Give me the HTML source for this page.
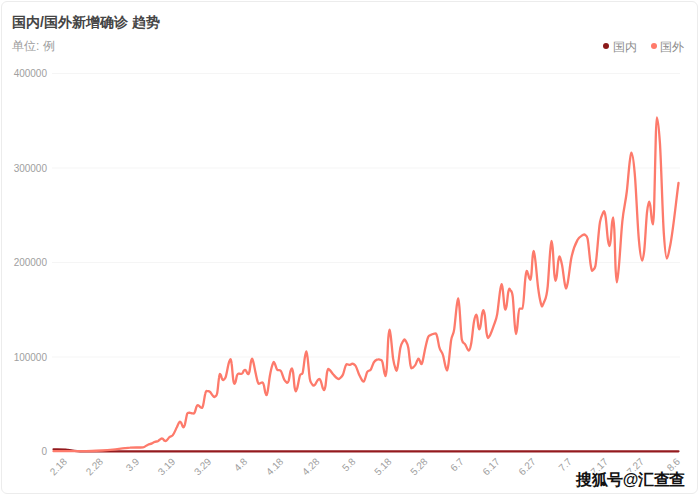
<!DOCTYPE html>
<html><head><meta charset="utf-8"><style>
html,body{margin:0;padding:0;background:#fff;width:700px;height:496px;overflow:hidden;}
body{position:relative;font-family:"Liberation Sans",sans-serif;}
.card{position:absolute;left:1px;top:1px;width:695px;height:491px;border:1px solid #ececec;border-radius:6px;}
.title{position:absolute;left:12px;top:13px;font-size:14px;font-weight:bold;color:#454545;line-height:18px;white-space:nowrap;}
.unit{position:absolute;left:12px;top:38px;font-size:12px;color:#9c9c9c;line-height:16px;white-space:nowrap;}
.leg{position:absolute;top:39px;font-size:12px;color:#8c8c8c;line-height:16px;white-space:nowrap;}
.dot{position:absolute;width:6px;height:6px;border-radius:50%;top:43.4px;}
svg{position:absolute;left:0;top:0;}
.yl text{font-size:10px;fill:#a0a0a0;text-anchor:end;}
.xl text{font-size:10px;fill:#a0a0a0;text-anchor:end;}
.wm{position:absolute;left:576px;top:470px;font-size:16px;color:#111;font-weight:bold;letter-spacing:-0.4px;white-space:nowrap;line-height:20px;
text-shadow:0 0 1px #fff,0 0 2px #fff,1px 1px 0 #fff,-1px -1px 0 #fff;}
</style></head><body>
<div class="card"></div>
<div class="title">国内/国外新增确诊 趋势</div>
<div class="unit">单位: 例</div>
<div class="dot" style="left:602.6px;background:#8b1a1a"></div><div class="leg" style="left:613px">国内</div>
<div class="dot" style="left:650.6px;background:#ff7a6a"></div><div class="leg" style="left:660px">国外</div>
<svg width="700" height="496" viewBox="0 0 700 496">
<g stroke="#f5f5f5" stroke-width="1"><line x1="52" x2="680" y1="73.5" y2="73.5" /><line x1="52" x2="680" y1="168.0" y2="168.0" /><line x1="52" x2="680" y1="262.5" y2="262.5" /><line x1="52" x2="680" y1="357.0" y2="357.0" /></g>
<g class="yl"><text x="47" y="77.1">400000</text><text x="47" y="171.6">300000</text><text x="47" y="266.1">200000</text><text x="47" y="360.6">100000</text><text x="47" y="454.90000000000003">0</text></g>
<g class="xl"><text transform="translate(67.70,462.2) rotate(-45)">2.18</text><text transform="translate(103.76,462.2) rotate(-45)">2.28</text><text transform="translate(139.82,462.2) rotate(-45)">3.9</text><text transform="translate(175.88,462.2) rotate(-45)">3.19</text><text transform="translate(211.94,462.2) rotate(-45)">3.29</text><text transform="translate(248.00,462.2) rotate(-45)">4.8</text><text transform="translate(284.06,462.2) rotate(-45)">4.18</text><text transform="translate(320.12,462.2) rotate(-45)">4.28</text><text transform="translate(356.18,462.2) rotate(-45)">5.8</text><text transform="translate(392.24,462.2) rotate(-45)">5.18</text><text transform="translate(428.30,462.2) rotate(-45)">5.28</text><text transform="translate(464.36,462.2) rotate(-45)">6.7</text><text transform="translate(500.42,462.2) rotate(-45)">6.17</text><text transform="translate(536.48,462.2) rotate(-45)">6.27</text><text transform="translate(572.54,462.2) rotate(-45)">7.7</text><text transform="translate(608.60,462.2) rotate(-45)">7.17</text><text transform="translate(644.66,462.2) rotate(-45)">7.27</text><text transform="translate(680.72,462.2) rotate(-45)">8.6</text></g>
<path d="M53.5,449.3 C58,449.2 62,449.2 66,449.6 C70,450.3 74,451.2 80,451.3 L678.5,451.3" fill="none" stroke="#941a1e" stroke-width="2.2" stroke-linecap="round"/>
<path d="M53.5,451.2C57.3,451.2 61.2,451.2 65.0,451.2C69.3,451.2 73.7,451.2 78.0,451.2C82.7,451.2 87.3,451.2 92.0,451.0C95.3,450.9 98.7,450.7 102.0,450.5C105.7,450.3 109.3,450.0 113.0,449.6C117.0,449.2 121.0,448.6 125.0,448.2C126.7,448.0 128.3,447.8 130.0,447.7C134.3,447.3 138.7,447.7 143.0,447.3C144.7,447.1 146.3,445.4 148.0,444.7C149.3,444.2 150.7,444.0 152.0,443.4C153.0,443.0 154.0,442.2 155.0,441.8C156.1,441.4 157.1,441.6 158.2,441.0C159.0,440.5 159.9,439.4 160.7,438.9C161.1,438.8 161.4,438.5 161.8,438.5C162.2,438.5 162.5,438.7 162.9,438.9C163.4,439.3 163.9,440.2 164.4,440.6C164.8,440.8 165.1,441.0 165.5,441.0C165.9,441.0 166.3,440.6 166.7,440.3C167.6,439.6 168.6,437.8 169.5,437.0C170.6,436.1 171.6,436.5 172.7,435.3C174.1,433.7 175.4,430.1 176.8,427.3C177.5,425.8 178.3,423.7 179.0,422.6C179.4,422.2 179.7,421.6 180.0,421.6C180.4,421.6 180.7,422.0 181.1,422.6C181.6,423.4 182.1,425.5 182.6,426.3C183.0,426.9 183.3,427.3 183.7,427.3C184.1,427.3 184.4,425.9 184.8,424.8C185.6,422.3 186.5,415.0 187.3,413.5C187.7,412.8 188.0,413.0 188.4,412.8C188.6,412.8 188.7,412.7 188.9,412.7C189.4,412.7 189.9,412.8 190.3,412.8C191.0,413.0 191.6,413.2 192.3,413.4C192.7,413.4 193.2,413.5 193.7,413.5C194.1,413.5 194.5,412.9 194.9,412.0C195.4,410.9 196.0,407.8 196.5,406.7C196.9,405.8 197.3,405.2 197.7,405.2C198.1,405.2 198.5,405.4 198.9,405.7C199.5,406.1 200.0,407.0 200.6,407.4C201.0,407.7 201.4,407.9 201.8,407.9C202.3,407.9 202.8,406.6 203.2,404.9C203.9,402.5 204.5,396.4 205.2,394.0C205.6,392.3 206.1,391.0 206.6,391.0C206.9,391.0 207.2,391.1 207.6,391.1C208.3,391.3 209.1,391.3 209.8,391.8C210.9,392.6 212.0,395.1 213.2,396.1C213.6,396.5 214.1,397.0 214.6,397.0C214.8,397.0 215.1,396.7 215.3,396.4C215.9,395.8 216.5,396.4 217.1,393.6C217.8,390.5 218.4,381.0 219.1,377.4C219.3,375.9 219.6,373.9 219.9,373.9C220.2,373.9 220.5,374.4 220.8,375.0C221.2,375.9 221.7,378.2 222.1,379.1C222.4,379.7 222.7,380.2 223.0,380.2C223.2,380.2 223.5,379.9 223.8,379.7C224.3,379.2 224.9,378.7 225.5,377.4C226.7,374.7 227.8,365.7 229.0,362.4C229.5,361.0 230.0,359.1 230.5,359.1C230.9,359.1 231.3,361.0 231.6,363.5C232.1,366.9 232.7,376.0 233.2,379.4C233.5,381.9 233.9,383.8 234.3,383.8C234.7,383.8 235.1,383.0 235.5,382.0C236.0,380.6 236.5,376.8 237.0,375.4C237.4,374.4 237.8,373.6 238.2,373.6C238.5,373.6 238.8,373.6 239.1,373.7C239.5,373.7 240.0,373.8 240.4,373.8C240.7,373.9 241.0,373.9 241.3,373.9C241.7,373.9 242.0,373.6 242.4,373.2C242.9,372.6 243.4,371.2 243.9,370.6C244.3,370.2 244.6,369.9 245.0,369.9C245.3,369.9 245.7,370.2 246.0,370.7C246.5,371.3 246.9,372.8 247.4,373.4C247.7,373.9 248.1,374.2 248.4,374.2C248.8,374.2 249.1,373.0 249.5,371.4C250.0,369.3 250.5,363.5 251.0,361.4C251.4,359.8 251.7,358.6 252.1,358.6C252.4,358.6 252.7,359.9 253.0,360.8C253.8,363.1 254.5,367.7 255.2,371.0C256.0,374.7 256.8,379.2 257.6,381.5C258.0,382.5 258.3,383.8 258.7,383.8C259.1,383.8 259.5,383.7 259.8,383.5C260.3,383.4 260.9,382.8 261.4,382.7C261.7,382.5 262.1,382.4 262.5,382.4C262.9,382.4 263.3,383.4 263.7,384.7C264.3,386.4 264.8,391.1 265.4,392.8C265.8,394.1 266.2,395.1 266.6,395.1C266.9,395.1 267.2,393.2 267.6,391.7C268.3,388.3 269.1,380.6 269.8,376.3C270.7,371.1 271.6,367.1 272.5,364.6C272.9,363.5 273.3,362.0 273.7,362.0C274.0,362.0 274.4,362.8 274.7,363.4C275.5,364.7 276.3,368.8 277.1,369.6C278.3,370.8 279.5,369.6 280.7,370.8C281.9,372.0 283.2,377.9 284.4,379.9C285.1,381.0 285.8,381.8 286.5,382.4C286.8,382.6 287.1,382.9 287.4,382.9C287.8,382.9 288.3,381.8 288.8,380.3C289.3,378.3 289.9,373.0 290.5,371.0C291.0,369.5 291.4,368.4 291.9,368.4C292.3,368.4 292.7,370.2 293.1,372.5C293.6,375.7 294.1,384.1 294.6,387.3C295.0,389.6 295.4,391.4 295.8,391.4C296.2,391.4 296.7,389.7 297.1,388.5C298.1,385.5 299.1,377.4 300.1,375.1C300.9,373.3 301.7,375.1 302.5,373.3C303.4,371.3 304.3,359.3 305.2,355.4C305.6,353.7 306.0,351.5 306.4,351.5C306.7,351.5 307.1,354.3 307.4,356.4C308.2,361.3 309.0,374.0 309.8,378.7C310.6,383.7 311.5,383.2 312.3,384.4C312.7,385.0 313.0,385.7 313.4,385.7C314.0,385.7 314.6,385.2 315.2,384.5C316.0,383.6 316.8,381.1 317.6,380.2C318.2,379.5 318.8,379.0 319.4,379.0C319.9,379.0 320.4,379.9 320.8,381.0C321.5,382.6 322.1,386.6 322.8,388.2C323.2,389.3 323.7,390.2 324.2,390.2C324.6,390.2 325.0,388.6 325.4,386.4C325.9,383.5 326.5,375.7 327.0,372.8C327.4,370.6 327.8,369.0 328.2,369.0C328.7,369.0 329.2,369.6 329.7,370.0C330.9,371.0 332.1,373.2 333.3,374.5C334.6,375.9 335.8,377.4 337.1,378.2C337.6,378.5 338.2,379.0 338.7,379.0C339.1,379.0 339.6,378.5 340.0,378.2C341.0,377.4 342.0,376.9 343.0,374.5C343.8,372.5 344.7,367.9 345.5,366.1C345.9,365.3 346.2,364.2 346.6,364.2C346.9,364.2 347.2,364.2 347.5,364.3C347.9,364.4 348.3,364.6 348.7,364.7C349.0,364.8 349.3,364.8 349.6,364.8C349.9,364.8 350.2,364.7 350.5,364.6C350.9,364.4 351.4,364.0 351.8,363.8C352.1,363.7 352.4,363.6 352.7,363.6C353.0,363.6 353.3,363.8 353.6,364.0C354.3,364.5 355.0,364.9 355.7,366.0C356.9,367.8 358.1,372.5 359.3,375.1C360.3,377.2 361.3,379.3 362.2,380.5C362.7,381.0 363.1,381.7 363.5,381.7C363.9,381.7 364.2,380.7 364.6,380.0C365.5,378.2 366.3,373.9 367.2,372.1C368.4,369.6 369.6,371.5 370.8,369.6C371.8,368.0 372.8,364.1 373.8,362.4C374.8,360.7 375.9,360.0 376.9,359.6C377.4,359.4 378.0,359.4 378.5,359.4C378.7,359.3 379.0,359.3 379.2,359.3C379.5,359.3 379.8,359.5 380.1,359.7C380.9,360.2 381.6,359.7 382.3,361.7C383.1,363.8 383.8,371.0 384.6,373.6C384.9,374.7 385.3,376.2 385.6,376.2C386.0,376.2 386.4,372.6 386.8,367.8C387.3,361.5 387.8,344.4 388.3,338.1C388.7,333.3 389.1,329.7 389.5,329.7C389.9,329.7 390.2,332.7 390.6,334.9C391.4,340.1 392.3,353.0 393.1,358.7C393.9,364.0 394.7,366.4 395.5,368.6C395.8,369.6 396.2,370.8 396.5,370.8C396.9,370.8 397.3,368.4 397.7,366.7C398.6,362.5 399.5,352.1 400.4,347.8C401.4,343.2 402.4,342.4 403.3,340.9C403.8,340.3 404.2,339.4 404.6,339.4C405.0,339.4 405.3,340.3 405.7,340.9C406.6,342.4 407.4,342.9 408.3,347.8C409.0,351.7 409.7,361.0 410.4,364.7C410.7,366.3 411.0,368.4 411.3,368.4C411.7,368.4 412.1,368.0 412.6,367.8C413.5,367.1 414.5,366.6 415.5,364.8C416.2,363.5 416.9,360.9 417.6,359.8C417.9,359.3 418.2,358.7 418.5,358.7C418.8,358.7 419.1,359.1 419.4,359.7C419.8,360.4 420.3,362.5 420.7,363.2C421.0,363.8 421.3,364.2 421.6,364.2C421.9,364.2 422.2,362.9 422.5,361.9C423.2,359.6 423.9,354.7 424.6,351.5C425.8,345.9 427.0,339.4 428.2,336.9C429.0,335.2 429.8,335.6 430.6,335.1C431.9,334.3 433.1,334.0 434.4,333.7C434.9,333.6 435.5,333.4 436.0,333.4C436.3,333.4 436.6,334.7 436.9,335.7C437.7,338.1 438.4,343.5 439.1,346.4C440.4,351.7 441.8,350.8 443.1,355.5C444.0,358.8 445.0,365.2 445.9,367.9C446.3,369.0 446.7,370.6 447.1,370.6C447.5,370.6 447.9,367.5 448.3,365.2C449.2,359.7 450.2,346.3 451.1,340.4C452.1,333.8 453.2,336.0 454.2,329.3C455.1,323.3 456.1,309.6 457.0,304.0C457.4,301.7 457.8,298.5 458.2,298.5C458.6,298.5 458.9,302.7 459.3,305.9C460.1,313.2 461.0,335.7 461.8,339.4C462.9,344.4 464.1,342.4 465.2,344.4C466.1,345.9 466.9,348.3 467.8,349.4C468.2,349.9 468.5,350.5 468.9,350.5C469.6,350.5 470.4,347.7 471.1,344.0C472.1,339.1 473.1,326.0 474.1,321.1C474.8,317.4 475.6,314.6 476.3,314.6C476.6,314.6 476.9,315.7 477.2,317.2C477.6,319.3 478.0,324.6 478.4,326.7C478.7,328.2 479.0,329.3 479.3,329.3C479.7,329.3 480.1,327.8 480.5,325.9C481.1,323.2 481.6,316.3 482.2,313.6C482.6,311.7 483.0,310.2 483.4,310.2C483.9,310.2 484.3,312.3 484.8,315.2C485.4,319.0 486.0,329.2 486.6,333.0C487.1,335.9 487.5,338.0 488.0,338.0C488.6,338.0 489.2,336.7 489.8,335.7C491.1,333.4 492.5,329.3 493.9,325.2C495.0,321.9 496.1,320.4 497.2,314.1C498.2,308.2 499.3,295.0 500.3,289.6C500.7,287.3 501.2,284.2 501.6,284.2C502.0,284.2 502.4,286.2 502.7,288.8C503.2,292.3 503.8,301.6 504.3,305.1C504.6,307.7 505.0,309.7 505.4,309.7C505.8,309.7 506.2,308.1 506.6,305.9C507.1,303.0 507.7,295.4 508.2,292.5C508.6,290.3 509.0,288.7 509.4,288.7C509.7,288.7 510.1,289.5 510.4,290.1C511.2,291.5 511.9,290.2 512.7,296.4C513.5,302.6 514.2,320.5 515.0,327.2C515.3,330.1 515.7,334.0 516.0,334.0C516.3,334.0 516.7,331.4 517.0,329.4C517.8,324.9 518.5,308.6 519.3,308.6C520.4,308.6 521.5,308.6 522.6,308.6C523.5,308.6 524.5,284.5 525.4,277.8C525.8,274.9 526.2,271.0 526.6,271.0C527.0,271.0 527.4,271.7 527.7,272.6C528.2,273.8 528.8,277.0 529.3,278.2C529.6,279.1 530.0,279.8 530.4,279.8C530.7,279.8 531.1,277.6 531.4,274.6C531.8,270.7 532.3,260.1 532.7,256.2C533.0,253.2 533.4,251.0 533.7,251.0C534.1,251.0 534.6,254.8 535.0,257.6C536.0,264.2 537.1,279.8 538.1,287.6C539.0,294.5 539.9,299.7 540.8,303.1C541.2,304.6 541.6,306.5 542.0,306.5C542.6,306.5 543.1,304.4 543.7,302.9C545.0,299.2 546.4,299.7 547.7,286.3C548.6,277.4 549.5,257.3 550.4,249.2C550.7,245.7 551.1,241.0 551.5,241.0C551.9,241.0 552.3,244.1 552.7,248.2C553.2,253.6 553.8,268.2 554.3,273.6C554.7,277.7 555.1,280.8 555.5,280.8C555.9,280.8 556.3,278.9 556.7,276.4C557.2,273.1 557.8,264.2 558.3,260.9C558.7,258.4 559.1,256.5 559.5,256.5C559.8,256.5 560.0,257.4 560.3,258.1C560.9,259.7 561.5,262.2 562.1,265.3C563.0,270.1 564.0,280.2 564.9,284.4C565.3,286.2 565.7,288.6 566.1,288.6C566.6,288.6 567.1,285.6 567.6,283.4C568.7,278.2 569.9,266.2 571.0,259.8C573.2,247.6 575.4,243.8 577.6,239.8C579.2,237.0 580.7,236.3 582.3,235.3C583.0,234.9 583.6,234.3 584.3,234.3C584.6,234.3 585.0,234.8 585.3,235.1C586.1,235.9 586.8,235.2 587.6,238.7C588.6,243.4 589.7,259.2 590.7,265.0C591.1,267.5 591.6,270.8 592.0,270.8C592.3,270.8 592.7,270.3 593.0,270.0C593.8,269.2 594.5,269.6 595.3,266.4C596.9,259.9 598.4,230.6 600.0,222.0C601.0,216.7 601.9,215.1 602.9,213.1C603.3,212.3 603.7,211.2 604.1,211.2C604.6,211.2 605.2,213.9 605.7,217.5C606.4,222.3 607.2,235.0 607.9,239.8C608.4,243.4 609.0,246.1 609.5,246.1C609.9,246.1 610.2,243.9 610.6,240.9C611.1,237.0 611.6,226.4 612.1,222.5C612.5,219.5 612.8,217.3 613.2,217.3C613.6,217.3 613.9,222.3 614.3,229.0C614.8,237.9 615.2,261.8 615.7,270.7C616.1,277.4 616.4,282.4 616.8,282.4C617.3,282.4 617.9,276.2 618.4,271.5C619.7,260.6 621.0,234.7 622.3,221.8C623.8,206.7 625.3,204.4 626.8,191.5C627.9,182.3 628.9,166.7 630.0,159.7C630.5,156.7 630.9,152.7 631.4,152.7C632.5,152.7 633.6,161.0 634.6,172.1C636.1,186.9 637.5,226.4 639.0,241.2C640.0,252.3 641.1,260.6 642.2,260.6C642.9,260.6 643.6,256.1 644.3,250.0C645.2,241.9 646.1,220.4 647.0,212.3C647.7,206.2 648.4,201.7 649.1,201.7C649.5,201.7 649.9,203.5 650.3,205.8C650.8,208.9 651.4,217.2 651.9,220.3C652.3,222.6 652.7,224.4 653.1,224.4C653.5,224.4 653.9,216.1 654.2,205.1C654.7,190.4 655.3,151.3 655.8,136.6C656.1,125.6 656.5,117.3 656.9,117.3C657.9,117.3 658.9,128.2 659.9,142.7C661.2,162.1 662.5,213.7 663.8,233.1C664.8,247.6 665.8,258.5 666.8,258.5C668.0,258.5 669.1,250.7 670.3,244.9C673.0,231.3 675.8,203.6 678.5,183.0" fill="none" stroke="#fd7a6b" stroke-width="2.3" stroke-linejoin="round" stroke-linecap="round"/>
</svg>
<div class="wm">搜狐号@汇查查</div>
</body></html>
